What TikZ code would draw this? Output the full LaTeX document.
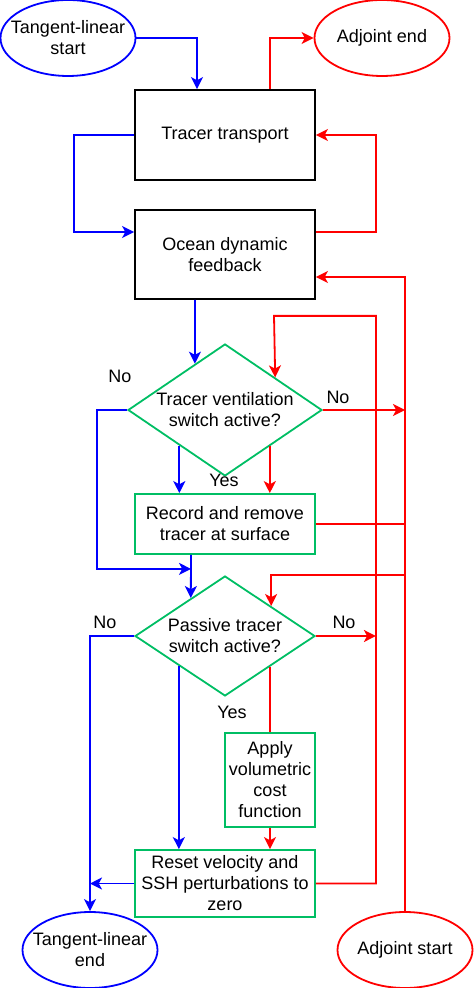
\documentclass[tikz,border=0pt]{standalone}
\usepackage{fontspec}
\setmainfont{Liberation Sans}
\usetikzlibrary{shapes.geometric,arrows.meta}
\definecolor{tlblue}{RGB}{0,0,255}
\definecolor{adjred}{RGB}{255,0,0}
\definecolor{boxgreen}{RGB}{0,190,100}

\begin{document}
\begin{tikzpicture}[x=0.5pt, y=-0.5pt, line width=0.9pt,
    every node/.style={font=\fontsize{9}{10.5}\selectfont},
    tlflow/.style={tlblue, -{Stealth[length=6pt,width=6pt,inset=1.6pt]}},
    adjflow/.style={adjred, -{Stealth[length=6pt,width=6pt,inset=1.6pt]}},
    adjline/.style={adjred},
    term/.style={ellipse, draw, minimum width=67.5pt, minimum height=38pt, inner sep=0pt},
    process/.style={rectangle, draw=black, minimum width=90pt, align=center, inner sep=1pt},
    decision/.style={diamond, draw=boxgreen, inner sep=0pt}]
            \useasboundingbox (0,0) rectangle (474,988);

            % start- and endpoints
            \node[term, draw=tlblue, label={[align=center]center:Tangent-linear\\start}] (tlstart) at (68,38) {};
            \node[term, draw=adjred, label=center:Adjoint end] (adjend) at (382,38) {};
            \node[term, draw=tlblue, label={[align=center]center:Tangent-linear\\end}] (tlend) at (90,950) {};
            \node[term, draw=adjred, label=center:Adjoint start] (adjstart) at (405,950) {};

            % steps
            \node[process, minimum height=45pt] (transport) at (225,135) {Tracer transport};
            \node[process, minimum height=44.5pt] (ocean) at (225,254.5) {Ocean dynamic\\feedback};
            \node[decision, minimum width=97pt, minimum height=66pt, label={[align=center]center:Tracer ventilation\\switch active?}] (vent) at (225,410) {};
            \node[process, draw=boxgreen, minimum height=30pt] (record) at (225,524) {Record and remove\\tracer at surface};
            \node[decision, minimum width=90pt, minimum height=60pt, label={[align=center]center:Passive tracer\\switch active?}] (passive) at (225,636) {};
            \node[process, draw=boxgreen, minimum width=45pt, minimum height=47pt] (cost) at (270,780) {Apply\\volumetric\\cost\\function};
            \node[process, draw=boxgreen, minimum height=33.5pt] (reset) at (225,883.5) {Reset velocity and\\SSH perturbations to\\zero};

            \node (ventno) at (120,376) {No};
            \node (ventnoR) at (338,397) {No};
            \node (ventyes) at (224,480) {Yes};
            \node (passno) at (105,622) {No};
            \node (passnoR) at (344,622) {No};
            \node (passyes) at (232,712) {Yes};

            % tangent-linear path
            \draw[tlflow] (tlstart.east) -| ([xshift=-14pt]transport.north);
            \draw[tlflow] (transport.west) -- ++(-60,0) |- ([yshift=11.25pt]ocean.west);
            \draw[tlflow] ([xshift=-15pt]ocean.south) -- (vent.123.3);
            \draw[tlflow] (vent.218.2) -- (vent.218.2 |- record.north);
            \coordinate (merge) at ([xshift=-17pt,yshift=-7pt]record.south);
            \draw[tlflow] (vent.west) -- ++(-30,0) |- (merge);
            \draw[tlflow] ([xshift=-17pt]record.south) -- (passive.132.3);
            \draw[tlflow] (passive.west) -| (tlend.north);
            \draw[tlflow] (passive.213.7) -- (passive.213.7 |- reset.north);
            \draw[tlflow] (reset.west) -- (reset.west -| tlend.north);

            % adjoint path
            \draw[adjflow] ([xshift=22.5pt]transport.north) |- (adjend.west);
            \draw[adjflow] ([yshift=11.25pt]ocean.east) -- ++(60,0) |- (transport.east);
            \draw[adjflow] (adjstart.north) |- ([yshift=-11.25pt]ocean.east);
            \draw[adjflow] (vent.east) -- (vent.east -| adjstart.north);
            \draw[adjline] (record.east) -- (record.east -| adjstart.north);
            \draw[adjflow] (vent.321.8) -- (vent.321.8 |- record.north);
            \coordinate (redlane) at ([xshift=30pt]reset.east);
            \draw[adjflow] (reset.east) -- (redlane) |- ([xshift=24.5pt,yshift=-8pt]ocean.south) -- (vent.33.7);
            \draw[adjflow] (passive.east) -- (passive.east -| redlane);
            \draw[adjflow] (passive.north -| adjstart.north) -| (passive.33.7);
            \draw[adjline] (passive.326.3) -- (passive.326.3 |- cost.north);
            \draw[adjflow] (cost.south) -- (cost.south |- reset.north);
        \end{tikzpicture}
\end{document}
